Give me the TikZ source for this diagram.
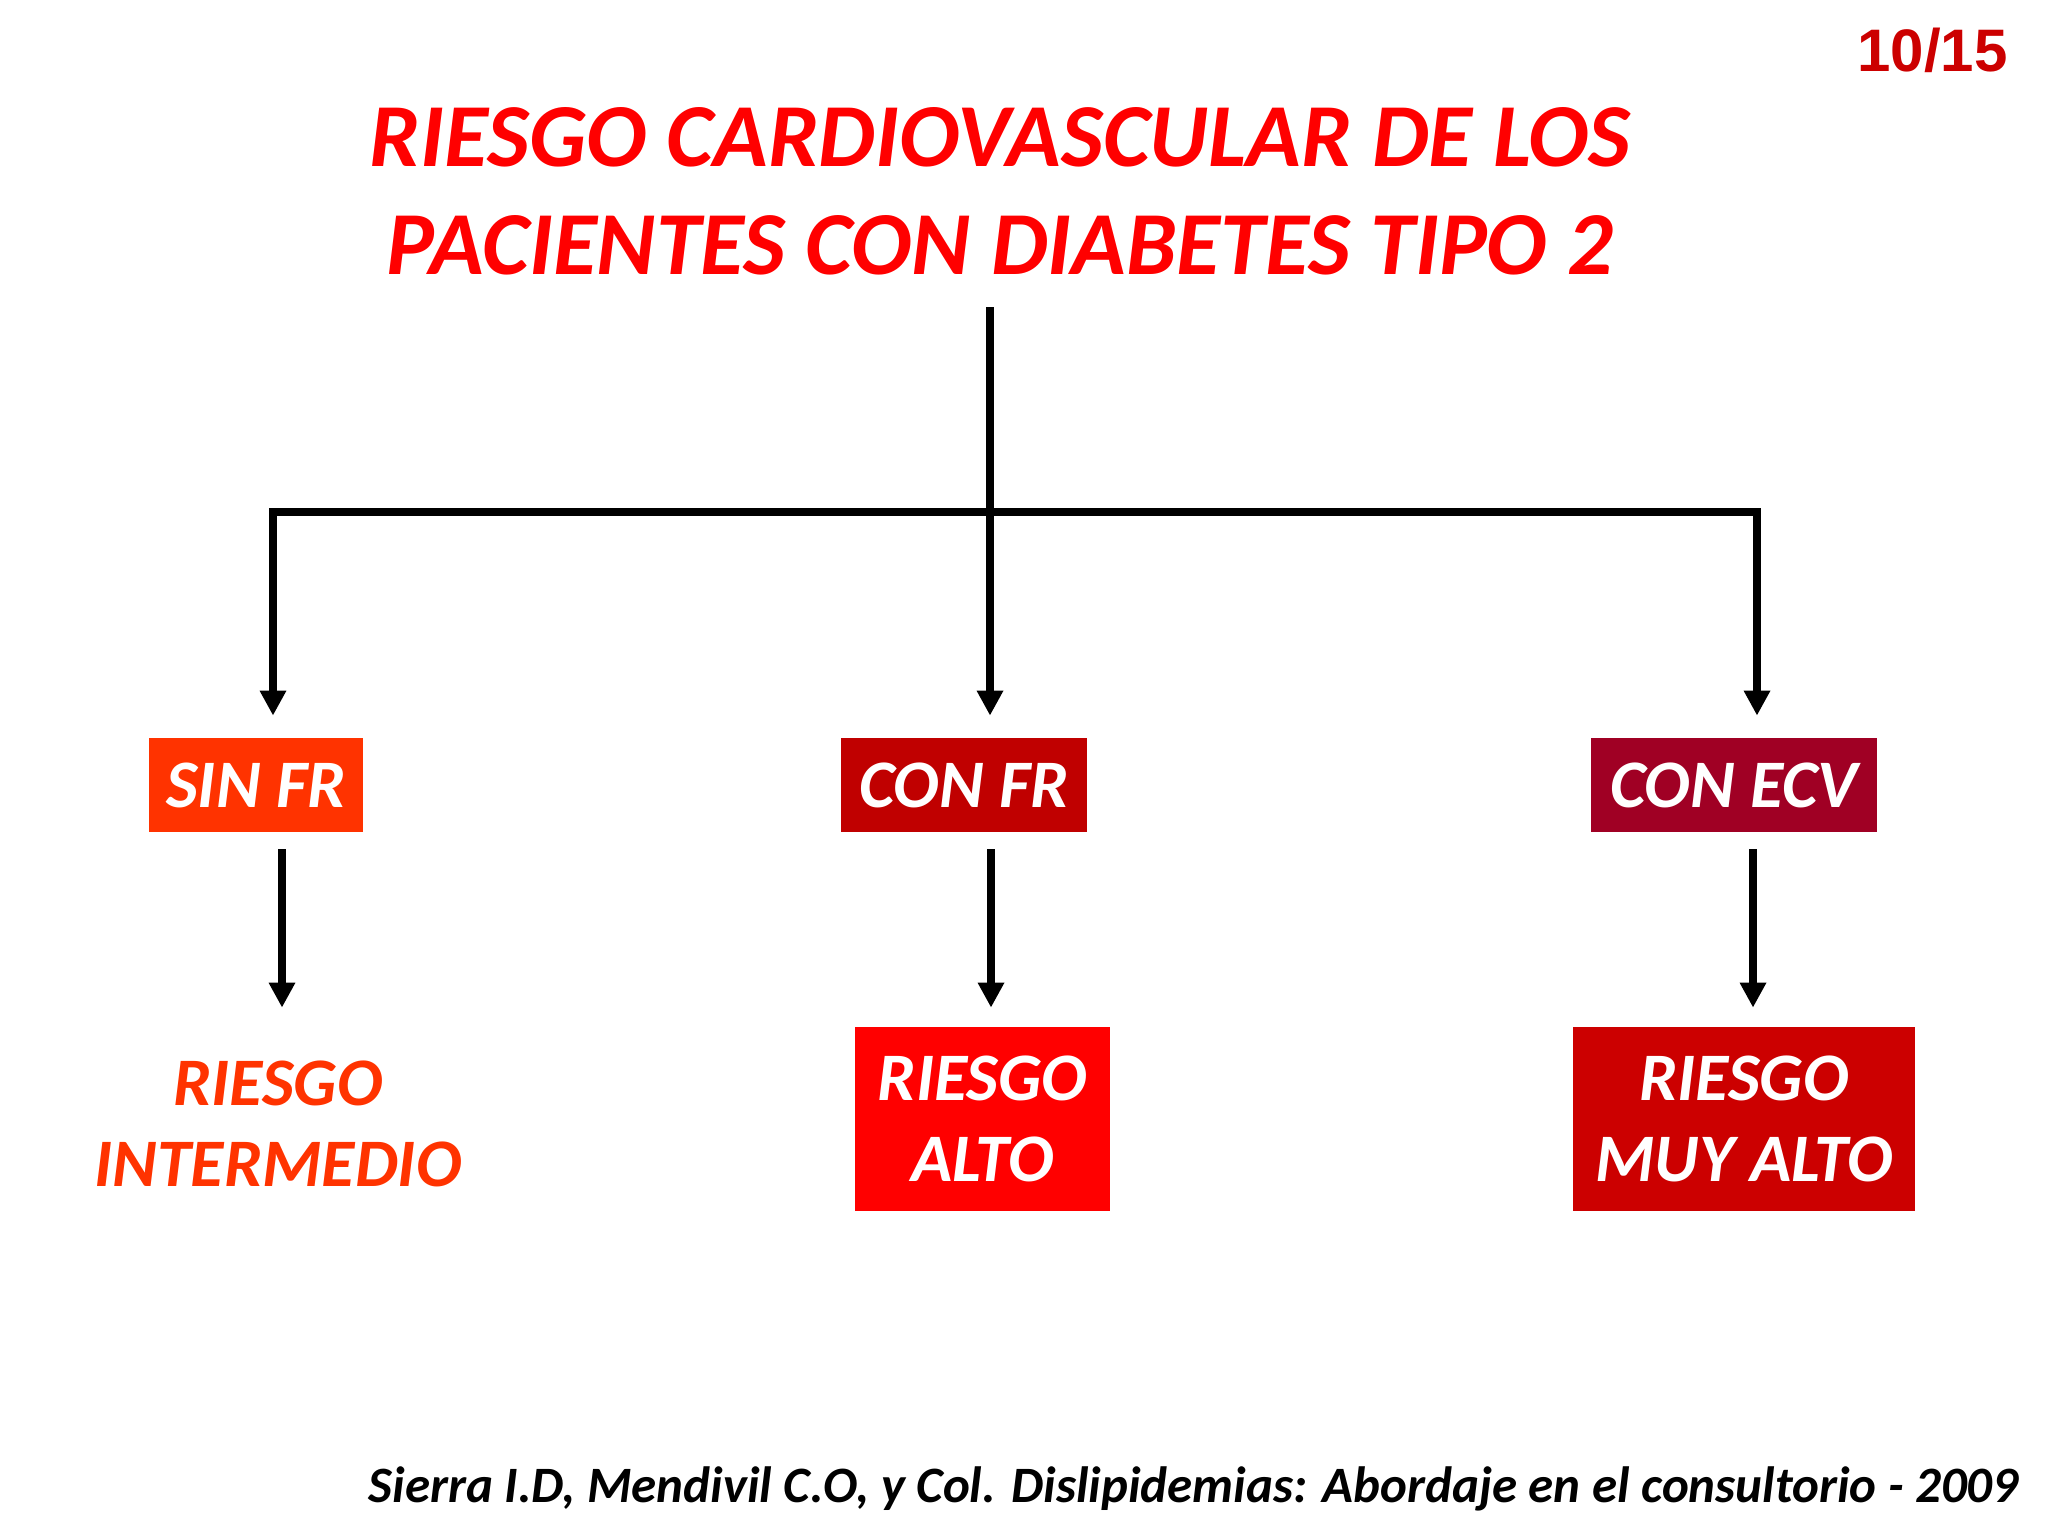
\documentclass[tikz,border=0pt]{standalone}
\usepackage{fontspec}
\setmainfont{Carlito}
\newfontfamily\arialfont{Liberation Sans}
\usetikzlibrary{arrows.meta}
\definecolor{titlered}{RGB}{255,0,0}
\definecolor{pagered}{RGB}{204,0,0}
\definecolor{sinred}{RGB}{255,51,0}
\definecolor{conred}{RGB}{192,0,0}
\definecolor{ecvred}{RGB}{160,0,36}
\definecolor{altored}{RGB}{255,0,0}
\definecolor{muyred}{RGB}{204,0,0}
\begin{document}
\begin{tikzpicture}[x=0.5pt,y=-0.5pt,
  lbl/.style={font=\fontsize{34}{40.5}\selectfont\bfseries\itshape, align=center, inner sep=0pt},
  box/.style={lbl, text=white, minimum height=47pt},
  bigbox/.style={lbl, text=white, minimum height=92pt},
  conn/.style={line width=4pt, black},
  arr/.style={conn, -{Triangle[length=12.5pt,width=12.5pt]}}]
\useasboundingbox[fill=white] (0,0) rectangle (2048,1536);
% title
\node[anchor=base, text=titlered, align=center, inner sep=0pt,
      font=\fontsize{45}{54}\selectfont\bfseries\itshape] (title) at (1000,274)
  {RIESGO CARDIOVASCULAR DE LOS\\PACIENTES CON DIABETES TIPO 2};
\node[anchor=base east, text=pagered, inner sep=0pt,
      font=\arialfont\fontsize{30}{36}\selectfont\bfseries] (page) at (2008,72) {10/15};
% boxes
\node[box, fill=sinred, minimum width=107pt] (sinfr) at (256,785) {SIN FR};
\node[box, fill=conred, minimum width=123pt] (confr) at (964,785) {CON FR};
\node[box, fill=ecvred, minimum width=143pt] (conecv) at (1734,785) {CON ECV};
\node[lbl, text=sinred, anchor=base] (inter) at (278,1186) {RIESGO\\INTERMEDIO};
\node[bigbox, fill=altored, minimum width=127.5pt] (alto) at (982.5,1119) {RIESGO\\ALTO};
\node[bigbox, fill=muyred, minimum width=171pt] (muy) at (1744,1119) {RIESGO\\MUY ALTO};
% footer
\node[anchor=base east, inner sep=0pt, font=\fontsize{25.5}{30}\selectfont\bfseries\itshape] (foot) at (2019,1502)
  {Sierra I.D, Mendivil C.O, y Col. Dislipidemias: Abordaje en el consultorio - 2009};
% connectors
\coordinate (top) at (990,307);
\coordinate (jn) at (990,512);
\coordinate (bl) at (273,512);
\coordinate (br) at (1757,512);
\draw[conn] (top) -- (jn);
\draw[conn] ([xshift=-2pt]bl) -- ([xshift=2pt]br);
\draw[arr, shorten >=11pt] (bl) -- (bl |- sinfr.north);
\draw[arr, shorten >=11pt] (jn) -- (jn |- confr.north);
\draw[arr, shorten >=11pt] (br) -- (br |- conecv.north);
\draw[arr, shorten <=8.5pt, shorten >=9.5pt] ([xshift=13pt]sinfr.south) -- ([xshift=13pt]sinfr.south |- alto.north);
\draw[arr, shorten <=8.5pt, shorten >=9.5pt] ([xshift=13.5pt]confr.south) -- ([xshift=13.5pt]confr.south |- alto.north);
\draw[arr, shorten <=8.5pt, shorten >=9.5pt] ([xshift=9.5pt]conecv.south) -- ([xshift=9.5pt]conecv.south |- alto.north);
\end{tikzpicture}
\end{document}
